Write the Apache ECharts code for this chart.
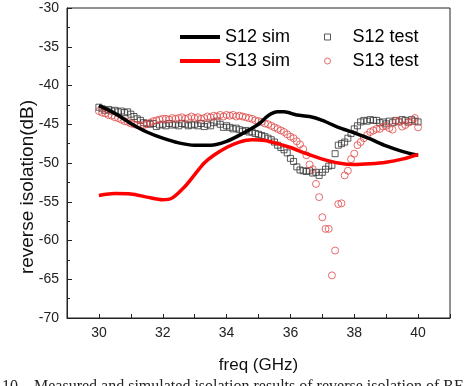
<!DOCTYPE html>
<html>
<head>
<meta charset="utf-8">
<script src="https://cdn.jsdelivr.net/npm/echarts@6/dist/echarts.min.js"></script>
<style>
html,body{margin:0;padding:0;background:#fff;}
#c{width:474px;height:386px;}
</style>
</head>
<body>
<div id="c"></div>
<script>
// ---- data ----
const xTickLabels = [30, 32, 34, 36, 38, 40];

const s12SimFreq = [30, 30.5, 31, 31.5, 32, 32.5, 33, 33.5, 34, 34.5, 35, 35.3, 35.6, 35.8, 36.2, 36.6, 37, 37.5, 38, 38.5, 39, 39.5, 40];
const s12SimVal  = [-42.6, -43.6, -44.9, -46.0, -46.8, -47.4, -47.7, -47.7, -47.2, -46.2, -45.0, -43.9, -43.4, -43.4, -43.8, -44.0, -44.5, -45.4, -46.1, -46.9, -47.8, -48.5, -49.0];

const s13SimFreq = [30, 30.5, 31, 31.5, 32, 32.3, 32.7, 33, 33.3, 33.6, 34, 34.4, 34.8, 35.2, 35.6, 36, 36.5, 37, 37.5, 38, 38.5, 39, 39.5, 40];
const s13SimVal  = [-54.2, -53.95, -54.0, -54.4, -54.75, -54.5, -53.0, -51.5, -50.0, -49.0, -48.0, -47.3, -47.0, -47.1, -47.5, -48.0, -48.8, -49.5, -50.0, -50.2, -50.1, -49.9, -49.5, -48.9];

const testFreq = [
  30.0, 30.1, 30.2, 30.3, 30.4, 30.5, 30.6, 30.7, 30.8, 30.9,
  31.0, 31.1, 31.2, 31.3, 31.4, 31.5, 31.6, 31.7, 31.8, 31.9,
  32.0, 32.1, 32.2, 32.3, 32.4, 32.5, 32.6, 32.7, 32.8, 32.9,
  33.0, 33.1, 33.2, 33.3, 33.4, 33.5, 33.6, 33.7, 33.8, 33.9,
  34.0, 34.1, 34.2, 34.3, 34.4, 34.5, 34.6, 34.7, 34.8, 34.9,
  35.0, 35.1, 35.2, 35.3, 35.4, 35.5, 35.6, 35.7, 35.8, 35.9,
  36.0, 36.1, 36.2, 36.3, 36.4, 36.5, 36.6, 36.7, 36.8, 36.9,
  37.0, 37.1, 37.2, 37.3, 37.4, 37.5, 37.6, 37.7, 37.8, 37.9,
  38.0, 38.1, 38.2, 38.3, 38.4, 38.5, 38.6, 38.7, 38.8, 38.9,
  39.0, 39.1, 39.2, 39.3, 39.4, 39.5, 39.6, 39.7, 39.8, 39.9,
  40.0
];

const s12TestVal = [
  -42.8, -43.0, -43.2, -43.1, -43.3, -43.2, -43.4, -43.3, -43.5, -43.4,
  -43.7, -44.0, -44.3, -44.5, -44.8, -44.9, -45.0, -44.9, -45.3, -45.1,
  -45.0, -45.2, -44.9, -45.1, -45.0, -45.2, -44.9, -45.0, -45.2, -45.1,
  -45.0, -45.2, -44.9, -45.3, -45.0, -45.2, -44.8, -44.6, -45.0, -45.4,
  -45.2, -45.4, -45.6, -45.5, -45.7, -45.9, -45.8, -46.0, -46.0, -46.2,
  -46.3, -46.45, -46.6, -46.8, -47.0, -47.3, -47.7, -48.0, -48.3, -48.7,
  -49.4, -49.8, -50.5, -50.9, -51.0, -51.1, -51.0, -51.3, -51.2, -51.6,
  -51.2, -50.8, -50.4, -50.3, -48.8, -47.7, -47.5, -47.3, -46.8, -46.2,
  -45.6, -45.2, -44.7, -44.5, -44.6, -44.4, -44.5, -44.5, -44.8, -44.7,
  -44.95, -44.6, -44.8, -44.5, -44.7, -44.4, -44.5, -44.7, -44.4, -44.6,
  -44.7
];

const s13TestVal = [
  -43.3, -43.5, -43.6, -43.8, -43.9, -44.1, -44.2, -44.4, -44.6, -44.7,
  -44.9, -45.0, -45.1, -45.2, -45.1, -45.0, -44.8, -44.6, -44.5, -44.4,
  -44.3, -44.3, -44.4, -44.2, -44.3, -44.2, -44.1, -44.3, -44.2, -44.0,
  -44.2, -44.1, -44.3, -44.2, -44.0, -44.1, -43.9, -44.0, -43.8, -44.0,
  -43.8, -43.9, -43.8, -44.0, -43.9, -44.0, -44.1, -44.2, -44.3, -44.5,
  -44.6, -44.7, -44.9, -45.0, -45.2, -45.4, -45.6, -45.8, -46.0, -46.3,
  -46.6, -46.8, -47.2, -47.6, -48.2, -49.0, -50.2, -50.8, -52.7, -54.4,
  -57.0, -58.5, -58.5, -64.5, -61.3, -55.3, -55.2, -51.6, -51.0, -49.5,
  -48.8, -47.7, -47.3, -46.8, -46.4, -46.0, -45.8, -45.6, -45.6, -45.3,
  -45.2, -45.5, -45.7, -44.6, -44.6, -45.3, -45.1, -44.8, -44.6, -44.2,
  -45.4
];

function zip(xs, ys) { return xs.map((x, i) => [x, ys[i]]); }

const FONT = 'Liberation Sans, Arial, sans-serif';
const chart = echarts.init(document.getElementById('c'), null, {renderer: 'canvas'});

chart.setOption({
  animation: false,
  backgroundColor: '#fff',
  grid: {left: 67, right: 24, top: 8, bottom: 68, show: true, borderColor: '#222', borderWidth: 1, backgroundColor: 'transparent'},
  legend: [
    {
      data: [{name: 'S12 sim', icon: 'rect'}, {name: 'S13 sim', icon: 'rect'}],
      orient: 'vertical', left: 175, top: 23,
      itemWidth: 40, itemHeight: 4, itemGap: 6,
      textStyle: {fontSize: 18, lineHeight: 18, color: '#000', fontFamily: FONT}
    },
    {
      data: [{name: 'S12 test', icon: 'rect'}, {name: 'S13 test', icon: 'circle'}],
      orient: 'vertical', left: 319, top: 23,
      itemWidth: 6, itemHeight: 6, itemGap: 6,
      itemStyle: {borderWidth: 1},
      textStyle: {fontSize: 18, lineHeight: 18, color: '#000', fontFamily: FONT, padding: [0, 0, 0, 17]}
    }
  ],
  xAxis: {
    type: 'value', min: 29, max: 41, interval: 1,
    name: 'freq (GHz)', nameLocation: 'middle', nameGap: 39,
    nameTextStyle: {fontSize: 17, color: '#111', fontFamily: FONT},
    axisLine: {lineStyle: {color: '#222', width: 1}},
    axisTick: {inside: true, length: 4, lineStyle: {color: '#222'}},
    axisLabel: {
      fontSize: 14, color: '#222', fontFamily: FONT, margin: 8,
      formatter: function (v) { return xTickLabels.indexOf(v) >= 0 ? String(v) : ''; }
    },
    splitLine: {show: false}
  },
  yAxis: {
    type: 'value', min: -70, max: -30, interval: 5,
    axisLine: {show: true, lineStyle: {color: '#222', width: 1}},
    axisTick: {show: true, inside: true, length: 5, lineStyle: {color: '#222'}},
    minorTick: {show: true, splitNumber: 2, length: 3, lineStyle: {color: '#222'}},
    axisLabel: {fontSize: 14, color: '#222', fontFamily: FONT, margin: 8},
    splitLine: {show: false}
  },
  graphic: [
    {
      type: 'text', x: 28, y: 187, rotation: Math.PI / 2,
      style: {text: 'reverse isolation(dB)', fontSize: 19, fontFamily: FONT, fill: '#111', align: 'center', verticalAlign: 'middle'}
    },
    {
      type: 'text', x: 2, y: 379,
      style: {text: '10    Measured and simulated isolation results of reverse isolation of RF', fontSize: 16, fontFamily: 'Liberation Serif, serif', fill: '#222', align: 'left', verticalAlign: 'top'}
    }
  ],
  series: [
    {
      name: 'S12 test', type: 'scatter', symbol: 'rect', symbolSize: 6, z: 2,
      itemStyle: {color: 'rgba(0,0,0,0)', borderColor: '#333', borderWidth: 1},
      data: zip(testFreq, s12TestVal)
    },
    {
      name: 'S13 test', type: 'scatter', symbol: 'circle', symbolSize: 7, z: 2,
      itemStyle: {color: 'rgba(0,0,0,0)', borderColor: '#e04848', borderWidth: 1},
      data: zip(testFreq, s13TestVal)
    },
    {
      name: 'S12 sim', type: 'line', symbol: 'none', showSymbol: false, smooth: 0.3, z: 3,
      lineStyle: {color: '#000', width: 3.5},
      itemStyle: {color: '#000'},
      data: zip(s12SimFreq, s12SimVal)
    },
    {
      name: 'S13 sim', type: 'line', symbol: 'none', showSymbol: false, smooth: 0.3, z: 3,
      lineStyle: {color: '#f00', width: 3.5},
      itemStyle: {color: '#f00'},
      data: zip(s13SimFreq, s13SimVal)
    }
  ]
});
</script>
</body>
</html>
